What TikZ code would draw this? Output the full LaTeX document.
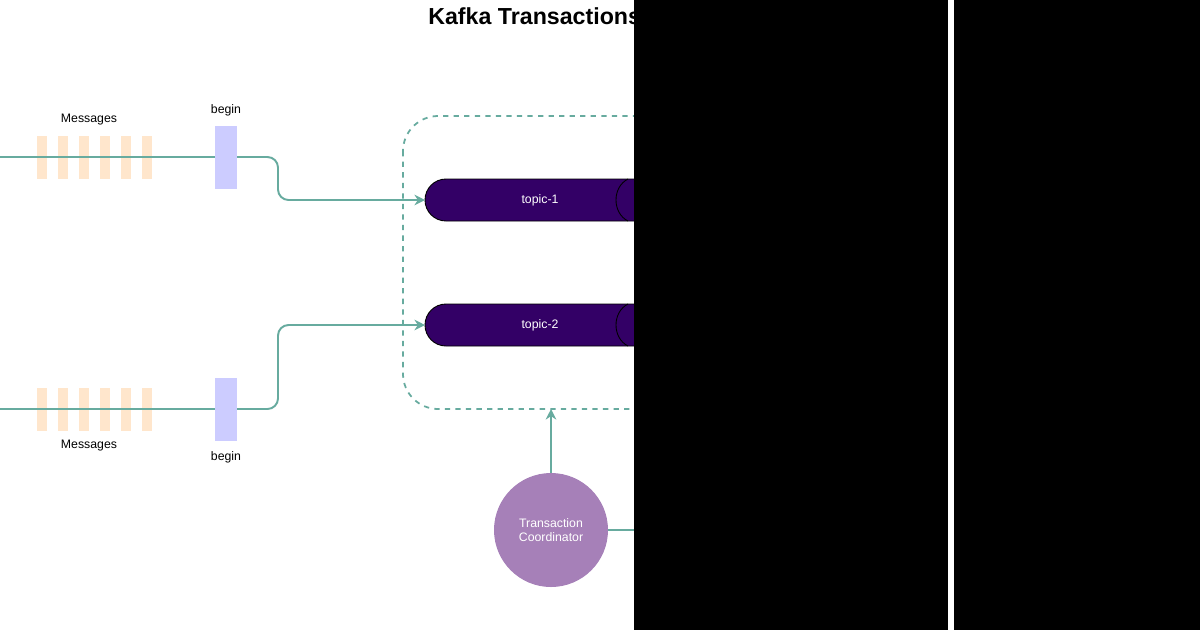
\documentclass[tikz,border=0pt]{standalone}
\usepackage{fontspec}
\setmainfont{Liberation Sans}
\usetikzlibrary{arrows.meta}
\definecolor{teal}{HTML}{67AB9F}
\definecolor{msg}{HTML}{FFE6CC}
\definecolor{beg}{HTML}{CCCCFF}
\definecolor{topic}{HTML}{330066}
\definecolor{coord}{HTML}{A680B8}
\begin{document}
\begin{tikzpicture}[x=0.02cm,y=-0.02cm,
  conn/.style={teal,line width=1.1pt,rounded corners=6pt},
  arr/.style={conn,-{Stealth[length=6pt,width=6pt]}},
  lbl/.style={font=\fontsize{7}{8}\selectfont},
  topicbody/.style={fill=topic,draw=black,line width=0.5pt}]
\useasboundingbox (0,0) rectangle (1200,630);
\node[font=\fontsize{13.2}{15}\selectfont\bfseries,anchor=west,inner sep=0pt] (title) at (428,16) {Kafka Transactions};
% dashed group
\draw[teal,dashed,line width=1pt,rounded corners=20pt] (403,116) rectangle (700,409);
\coordinate (grpb) at (551,409);
% top row
\coordinate (s1) at (0,157);
\foreach \i in {0,...,5} \fill[msg] (37+\i*21,136) rectangle (47+\i*21,179);
\node[lbl] (m1) at (89,120) {Messages};
\fill[beg] (215,126) rectangle (237,189);
\node[lbl] (b1) at (226,110) {begin};
% bottom row
\coordinate (s2) at (0,409);
\foreach \i in {0,...,5} \fill[msg] (37+\i*21,388) rectangle (47+\i*21,431);
\node[lbl] (m2) at (89,446) {Messages};
\fill[beg] (215,378) rectangle (237,441);
\node[lbl] (b2) at (226,457) {begin};
% topics
\foreach \y/\t in {179/topic-1,304/topic-2}{
  \draw[topicbody] (640,\y) -- (446,\y) arc[start angle=90,end angle=270,x radius=21,y radius=-21] -- (640,\y+42) -- cycle;
  \draw[black,line width=0.5pt] (628,\y) .. controls (612,\y+8) and (612,\y+34) .. (628,\y+42);
  \node[white,lbl] at (540,\y+21) {\t};
}
\coordinate (t1) at (425,200);
\coordinate (t2) at (425,325);
\draw[conn] (s1) -- (215,157);
\draw[arr] (237,157) -- (278,157) -- (278,200) -- (t1);
\draw[conn] (s2) -- (215,409);
\draw[arr] (237,409) -- (278,409) -- (278,325) -- (t2);
% coordinator
\node[circle,fill=coord,minimum size=114*0.02cm,inner sep=0pt,text=white,align=center,lbl] (tc) at (551,530) {Transaction\\Coordinator};
\draw[arr] (tc.north) -- (grpb);
\coordinate (tcr) at (650,530);
\draw[conn] (tc.east) -- (tcr);
% black panels
\fill[black] (634,0) rectangle (948,630);
\fill[black] (954,0) rectangle (1200,630);
\end{tikzpicture}
\end{document}
